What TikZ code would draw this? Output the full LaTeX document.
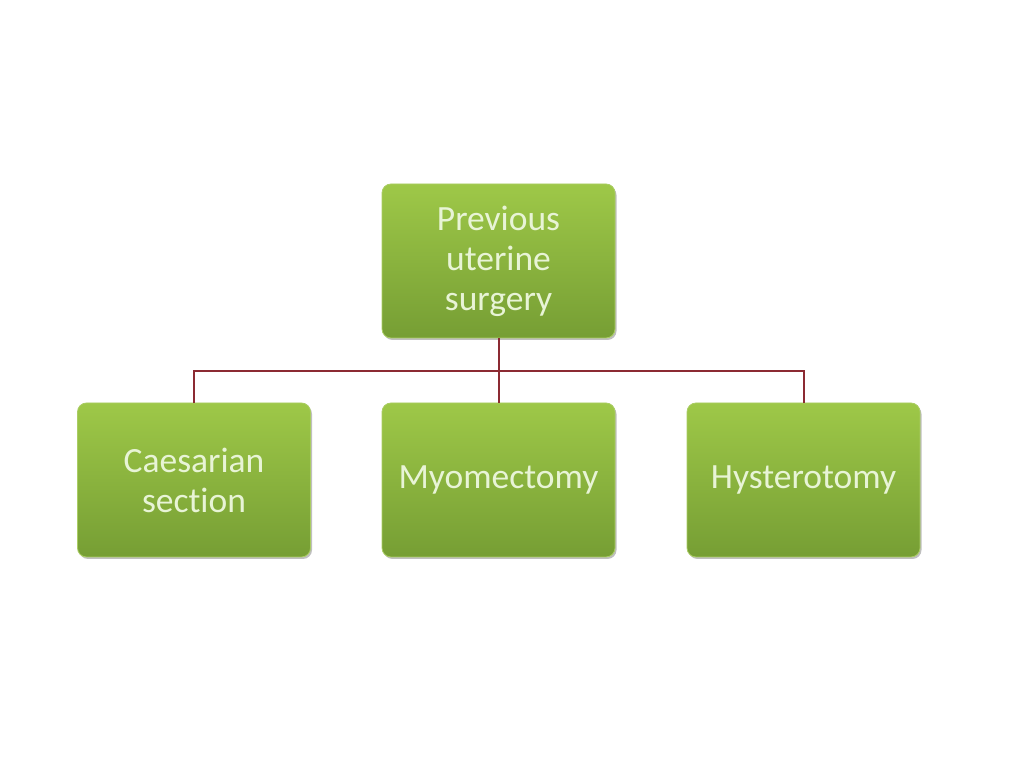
\documentclass[tikz,border=0pt]{standalone}
\usepackage{fontspec}
\setmainfont[Ligatures={NoCommon}]{Carlito}
\usetikzlibrary{shadows}
\definecolor{gtop}{RGB}{158,200,72}
\definecolor{gbot}{RGB}{118,158,52}
\definecolor{gedge}{RGB}{170,205,100}
\definecolor{txt}{RGB}{232,244,214}
\definecolor{link}{RGB}{140,42,50}
\begin{document}
\begin{tikzpicture}[x=1pt,y=1pt,
  box/.style={rectangle, rounded corners=9pt, minimum width=233pt, minimum height=154pt,
    top color=gtop, bottom color=gbot, draw=gedge, line width=0.8pt,
    drop shadow={shadow xshift=1.5pt, shadow yshift=-2pt, fill=black, opacity=0.25},
    text=txt, align=center, font=\fontsize{35.5}{40}\selectfont, text width=225pt},
  conn/.style={draw=link, line width=2pt}]
\useasboundingbox (0,0) rectangle (1024,768);
\node[box] (top) at (498.5,507) {\raisebox{-3pt}{\parbox{225pt}{\centering Previous\\uterine\\surgery}}};
\node[box] (cs) at (194,288) {\raisebox{-2pt}{\parbox{225pt}{\centering Caesarian\\section}}};
\node[box] (myo) at (498.5,288) {Myomectomy};
\node[box] (hys) at (803.5,288) {Hysterotomy};
\coordinate (bus) at (498.5,397);
\draw[conn] (top.south) -- (bus);
\draw[conn] (cs.north) |- (bus) -| (hys.north);
\draw[conn] (bus) -- (myo.north);
\end{tikzpicture}
\end{document}
